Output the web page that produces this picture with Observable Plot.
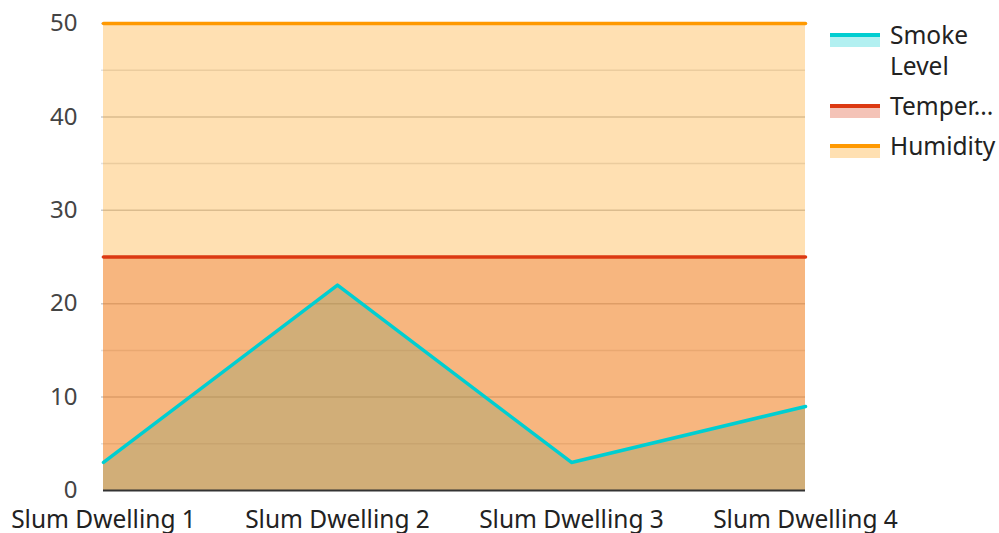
<!DOCTYPE html>
<html>
<head>
<meta charset="utf-8">
<script src="https://cdn.jsdelivr.net/npm/d3@7"></script>
<script src="https://cdn.jsdelivr.net/npm/@observablehq/plot@0.6"></script>
<style>
  html, body { margin: 0; padding: 0; background: #fff; }
  #wrap { position: relative; width: 999px; height: 533px; font-family: "Noto Sans", sans-serif; }
  .leg { position: absolute; left: 830px; font-size: 24.5px; color: #222; }
  .sw { position: absolute; left: 0; width: 50px; }
  .sw .ln { height: 4px; }
  .sw .fl { height: 10px; opacity: 0.3; }
  .lt { position: absolute; left: 60px; white-space: nowrap; line-height: 31px; }
</style>
</head>
<body>
<div id="wrap"></div>
<script>
const categories = ["Slum Dwelling 1", "Slum Dwelling 2", "Slum Dwelling 3", "Slum Dwelling 4"];
const smokeLevel = [3, 22, 3, 9];
const temperature = [25, 25, 25, 25];
const humidity = [50, 50, 50, 50];
const seriesNames = ["Smoke Level", "Temperature", "Humidity"];
const legendLabels = [["Smoke", "Level"], ["Temper..."], ["Humidity"]];
const seriesColors = ["#00CED1", "#DC3912", "#FF9900"];
const yTicks = [0, 10, 20, 30, 40, 50];
const yMinor = [5, 15, 25, 35, 45];

const seriesValues = [smokeLevel, temperature, humidity];
const rows = seriesNames.map((name, s) => categories.map((c, i) => ({series: name, cat: c, value: seriesValues[s][i]})));

const marks = [
  Plot.ruleY(yMinor, {stroke: "#e3e3e3", strokeWidth: 1.5, insetLeft: -2}),
  Plot.ruleY(yTicks.filter(d => d > 0), {stroke: "#cccccc", strokeWidth: 1.5, insetLeft: -2}),
];
rows.forEach((data, s) => {
  marks.push(Plot.areaY(data, {x: "cat", y: "value", fill: seriesColors[s], fillOpacity: 0.3}));
});
rows.forEach((data, s) => {
  marks.push(Plot.lineY(data, {x: "cat", y: "value", stroke: seriesColors[s], strokeWidth: 3.5}));
});
marks.push(Plot.ruleY([0], {stroke: "#333", strokeWidth: 2}));
marks.push(Plot.axisY({ticks: yTicks, tickSize: 0, tickPadding: 26, fontSize: 24, fill: "#444"}));
marks.push(Plot.axisX({tickSize: 0, tickPadding: 20, fontSize: 24.5, fill: "#222"}));

const chart = Plot.plot({
  width: 999,
  height: 533,
  marginLeft: 103,
  marginRight: 194,
  marginTop: 23,
  marginBottom: 43,
  style: {fontFamily: "Noto Sans, sans-serif", background: "#fff", overflow: "visible"},
  x: {type: "point", domain: categories, padding: 0, label: null},
  y: {domain: [0, 50], label: null},
  marks
});
const wrap = document.getElementById("wrap");
wrap.appendChild(chart);

const entryTops = [19, 90, 130];
legendLabels.forEach((lines, s) => {
  const leg = document.createElement("div");
  leg.className = "leg";
  leg.style.top = entryTops[s] + "px";
  const sw = document.createElement("div");
  sw.className = "sw";
  sw.style.top = "14px";
  sw.innerHTML = `<div class="ln" style="background:${seriesColors[s]}"></div><div class="fl" style="background:${seriesColors[s]}"></div>`;
  leg.appendChild(sw);
  const t = document.createElement("div");
  t.className = "lt";
  t.innerHTML = lines.join("<br>");
  leg.appendChild(t);
  wrap.appendChild(leg);
});
</script>
</body>
</html>
